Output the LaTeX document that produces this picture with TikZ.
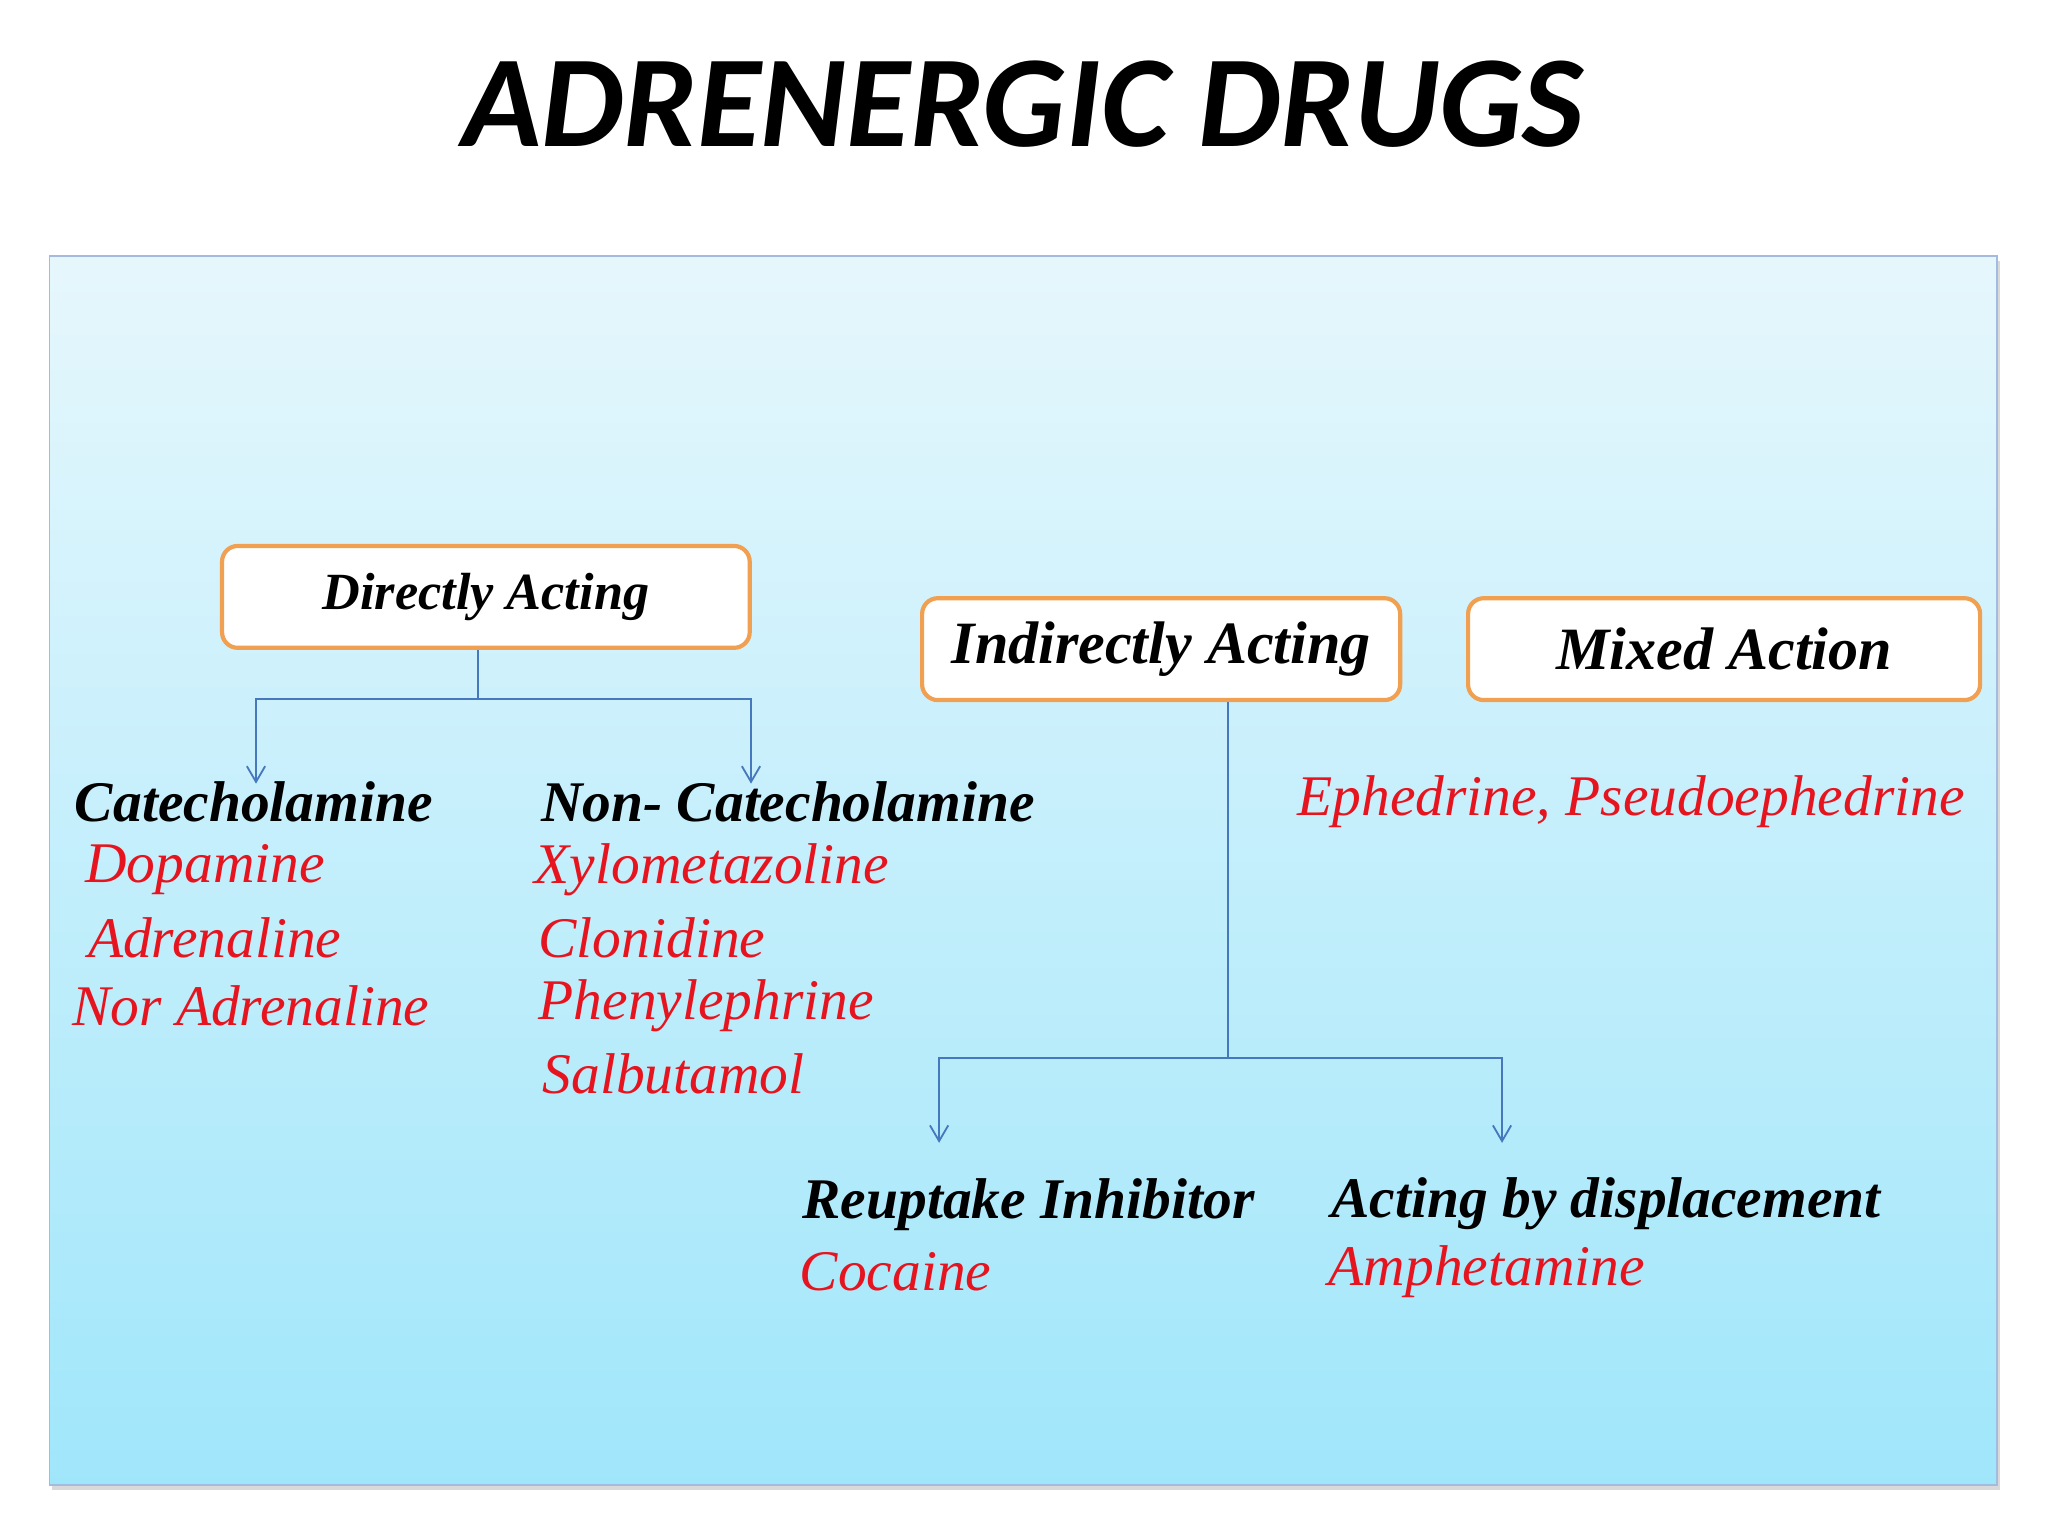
\documentclass[tikz,border=0pt]{standalone}
\usepackage{fontspec}
\setmainfont{Liberation Serif}
\newfontfamily\titlefont{Carlito}
\usetikzlibrary{arrows.meta,shadows}
\definecolor{panelTop}{RGB}{230,247,252}
\definecolor{panelBot}{RGB}{160,230,251}
\definecolor{boxEdge}{RGB}{240,160,80}
\definecolor{linkBlue}{RGB}{70,120,190}
\definecolor{drugRed}{RGB}{230,20,30}
\begin{document}
\begin{tikzpicture}[x=0.5pt,y=-0.5pt,
  classbox/.style={draw=boxEdge,line width=1.6pt,fill=white,rounded corners=6pt,inner sep=0pt},
  head/.style={anchor=west,inner sep=0pt,font=\fontsize{22}{26}\selectfont\bfseries\itshape},
  drug/.style={anchor=west,inner sep=0pt,text=drugRed,font=\fontsize{22}{26}\selectfont\itshape},
  link/.style={draw=linkBlue,line width=0.7pt},
  tip/.style={link,-{Straight Barb[length=6pt,width=7pt]}}]
\useasboundingbox (0,0) rectangle (1568,1176);

% title
\node (title) at (783,80) {\titlefont\fontsize{50}{56}\selectfont\bfseries\itshape ADRENERGIC DRUGS};

% panel
\shade[top color=panelTop,bottom color=panelBot,drop shadow={opacity=0.3,shadow xshift=1pt,shadow yshift=-2pt}]
  (38,196) rectangle (1529,1137);
\draw[draw=linkBlue!50,line width=0.5pt] (38,196) rectangle (1529,1137);

% class boxes
\node[classbox,minimum width=202pt,minimum height=39pt,font=\fontsize{20}{24}\selectfont\bfseries\itshape] (direct) at (372,457) {Directly Acting};
\node[classbox,minimum width=183pt,minimum height=39pt,font=\fontsize{23}{27}\selectfont\bfseries\itshape] (indirect) at (889,497) {Indirectly Acting};
\node[classbox,minimum width=196pt,minimum height=39pt,font=\fontsize{23}{27}\selectfont\bfseries\itshape] (mixed) at (1320,497) {Mixed Action};

% directly acting
\node[head] (cat) at (57,614) {Catecholamine};
\node[drug] (dopa) at (65,666) {Dopamine};
\node[drug] (adr) at (67,718) {Adrenaline};
\node[drug] (noradr) at (55,770) {Nor Adrenaline};
\node[head] (noncat) at (414,614) {Non- Catecholamine};
\node[drug] (xylo) at (409,666) {Xylometazoline};
\node[drug] (clon) at (412,718) {Clonidine};
\node[drug] (phen) at (412,770) {Phenylephrine};
\node[drug] (salb) at (415,822) {Salbutamol};

% mixed
\node[drug] (ephe) at (993,614) {Ephedrine, Pseudoephedrine};

% indirectly acting
\node[head] (reup) at (614,922) {Reuptake Inhibitor};
\node[drug] (coca) at (612,974) {Cocaine};
\node[head] (displ) at (1019,922) {Acting by displacement};
\node[drug] (amph) at (1017,974) {Amphetamine};

% connectors
\coordinate (dsplit) at (366,535);
\coordinate (isplit) at (940,810);
\draw[link] (direct.south -| dsplit) -- (dsplit);
\draw[tip] (dsplit) -- (196,535) -- (196,600);
\draw[tip] (dsplit) -- (575,535) -- (575,600);
\draw[link] (indirect.south -| isplit) -- (isplit);
\draw[tip] (isplit) -- (719,810) -- (719,875);
\draw[tip] (isplit) -- (1150,810) -- (1150,875);
\end{tikzpicture}
\end{document}
